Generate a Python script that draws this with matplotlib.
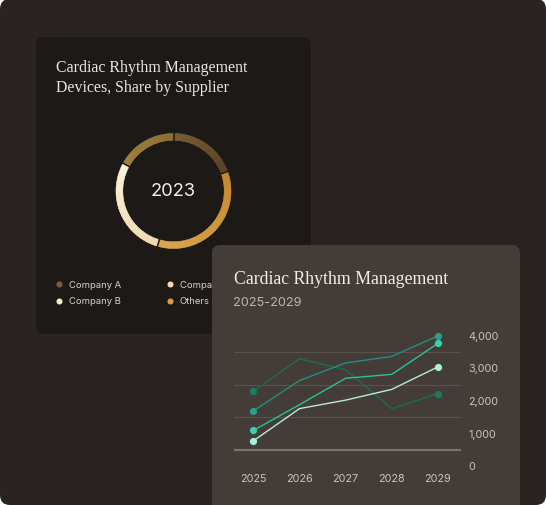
import numpy as np
import matplotlib
matplotlib.use("Agg")
import matplotlib.pyplot as plt
import matplotlib.transforms as mtransforms
from matplotlib.patches import FancyBboxPatch, Wedge
from matplotlib.colors import to_rgb


# ---------- data ----------
donut_year = "2023"
suppliers = ["Company A", "Others", "Company B", "Company C"]   # clockwise from top
shares = [19.5, 35.0, 28.5, 17.0]

legend_labels = ["Company A", "Company C", "Company B", "Others"]

years = ["2025", "2026", "2027", "2028", "2029"]
series_dark = [2300, 3300, 2960, 1770, 2230]
series_teal = [1700, 2630, 3170, 3370, 4000]
series_bright = [1100, 1890, 2700, 2820, 3770]
series_mint = [780, 1770, 2030, 2360, 3050]
y_ticks = [0, 1000, 2000, 3000, 4000]
grid_values = [1500, 2500, 3500]
baseline_value = 500


# ---------- styles ----------
W, H = 546, 506
SERIF = "Liberation Serif"
SANS = "Inter"

seg_colors = {
    "Company A": ("#7b6136", "#5b4527"),
    "Others": ("#c78a2c", "#dea853"),
    "Company B": ("#f1dcb0", "#fff6de"),
    "Company C": ("#a5853e", "#8c7034"),
}
legend_colors = {
    "Company A": "#7d5f34",
    "Company B": "#f6e9c8",
    "Company C": "#f0dcae",
    "Others": "#dc9c40",
}
line_styles = [
    (series_dark, "#1b6d57", "#1f7a62"),
    (series_teal, "#22907f", "#2a9d8b"),
    (series_bright, "#2cc09d", "#35d2ad"),
    (series_mint, "#b5ecde", "#a3f2de"),
]


def lerp(c0, c1, t):
    a, b = np.array(to_rgb(c0)), np.array(to_rgb(c1))
    return tuple(a + (b - a) * t)


fig = plt.figure(figsize=(W / 100, H / 100), dpi=100)
fig.patch.set_facecolor("white")

bg = fig.add_axes([0, 0, 1, 1])
bg.set_xlim(0, W)
bg.set_ylim(0, H)
bg.axis("off")


def card(x0, y0, x1, y1, r, color, z):
    # pixel coords, y measured from top
    p = FancyBboxPatch((x0 + r, H - y1 + r), (x1 - x0) - 2 * r, (y1 - y0) - 2 * r,
                       boxstyle=f"round,pad={r},rounding_size={r}",
                       fc=color, ec="none", zorder=z)
    bg.add_patch(p)


card(0, 0, W, H, 10, "#2a2321", 0)
card(36, 38, 311, 335, 8, "#1c1917", 1)

# ---------- left card: donut ----------
bg.text(56, H - 71.5, "Cardiac Rhythm Management", family=SERIF, fontsize=11.4,
        color="#ece6df", va="baseline", ha="left", zorder=2)
bg.text(56, H - 91.5, "Devices, Share by Supplier", family=SERIF, fontsize=11.4,
        color="#ece6df", va="baseline", ha="left", zorder=2)

cx, cy = 173.5, H - 192
R, wd = 57.5, 6.8
theta = 90.0
total = sum(shares)
bounds = []
for name, share in zip(suppliers, shares):
    span = share / total * 360
    c0, c1 = seg_colors[name]
    n = 40
    for k in range(n):
        a1 = theta - span * k / n
        a0 = theta - span * (k + 1) / n
        col = lerp(c0, c1, (k + 0.5) / n)
        bg.add_patch(Wedge((cx, cy), R, a0, a1, width=wd, fc=col, ec=col, lw=0.4, zorder=3))
    bounds.append(theta)
    theta -= span

for b in bounds:
    a = np.deg2rad(b)
    bg.plot([cx + (R - wd - 1) * np.cos(a), cx + (R + 1) * np.cos(a)],
            [cy + (R - wd - 1) * np.sin(a), cy + (R + 1) * np.sin(a)],
            color="#1c1917", lw=1.1, zorder=4, solid_capstyle="butt")

bg.text(cx, cy, donut_year, family=SANS, fontsize=13.2, color="#f4efe9",
        ha="center", va="center", zorder=4)

leg_pos = [(59, 285), (170, 285), (59, 302), (170, 302)]
for lab, (lx, ly) in zip(legend_labels, leg_pos):
    bg.scatter([lx], [H - ly], s=19, color=legend_colors[lab], zorder=3, lw=0)
    bg.text(lx + 10, H - ly, lab, family=SANS, fontsize=6.8, color="#d9d2ca",
            ha="left", va="center", zorder=3)

# ---------- right card: lines ----------
card(212, 246, 520, 540, 8, "#443c37", 5)
bg.text(233.5, H - 283.5, "Cardiac Rhythm Management", family=SERIF, fontsize=12.8,
        color="#f2ede7", va="baseline", ha="left", zorder=6)
bg.text(233.5, H - 305.5, "2025-2029", family=SANS, fontsize=9.2,
        color="#bdb5ad", va="baseline", ha="left", zorder=6)

ax = fig.add_axes([234 / W, (H - 455) / H, 227 / W, 130 / H])
ax.set_zorder(6)
ax.patch.set_alpha(0)
ax.set_xlim(-0.42, 4.5)
ax.set_ylim(377, 4365)
for s in ax.spines.values():
    s.set_visible(False)
ax.set_xticks([])
ax.set_yticks([])

for g in grid_values:
    ax.axhline(g, color="#5a524c", lw=0.8, zorder=1)
ax.axhline(baseline_value, color="#7b726b", lw=1.6, zorder=1)

x = np.arange(len(years))
for vals, lc, mc in line_styles:
    ax.plot(x, vals, color=lc, lw=1.0, zorder=3)
    ax.plot(x[[0, -1]], np.array(vals)[[0, -1]], "o", color=mc, ms=5.2, mew=0, zorder=4)

ytrans = mtransforms.blended_transform_factory(fig.transFigure, ax.transData)
for v in y_ticks:
    ax.text(468 / W, v, f"{v:,}", transform=ytrans, family=SANS, fontsize=7.8,
            color="#cbc3bb", ha="left", va="center", clip_on=False)

xtrans = mtransforms.blended_transform_factory(ax.transData, fig.transFigure)
for i, yr in enumerate(years):
    ax.text(i, 1 - 479 / H, yr, transform=xtrans, family=SANS, fontsize=7.8,
            color="#cbc3bb", ha="center", va="center", clip_on=False)

fig.savefig("out.png", dpi=100, facecolor="white")
